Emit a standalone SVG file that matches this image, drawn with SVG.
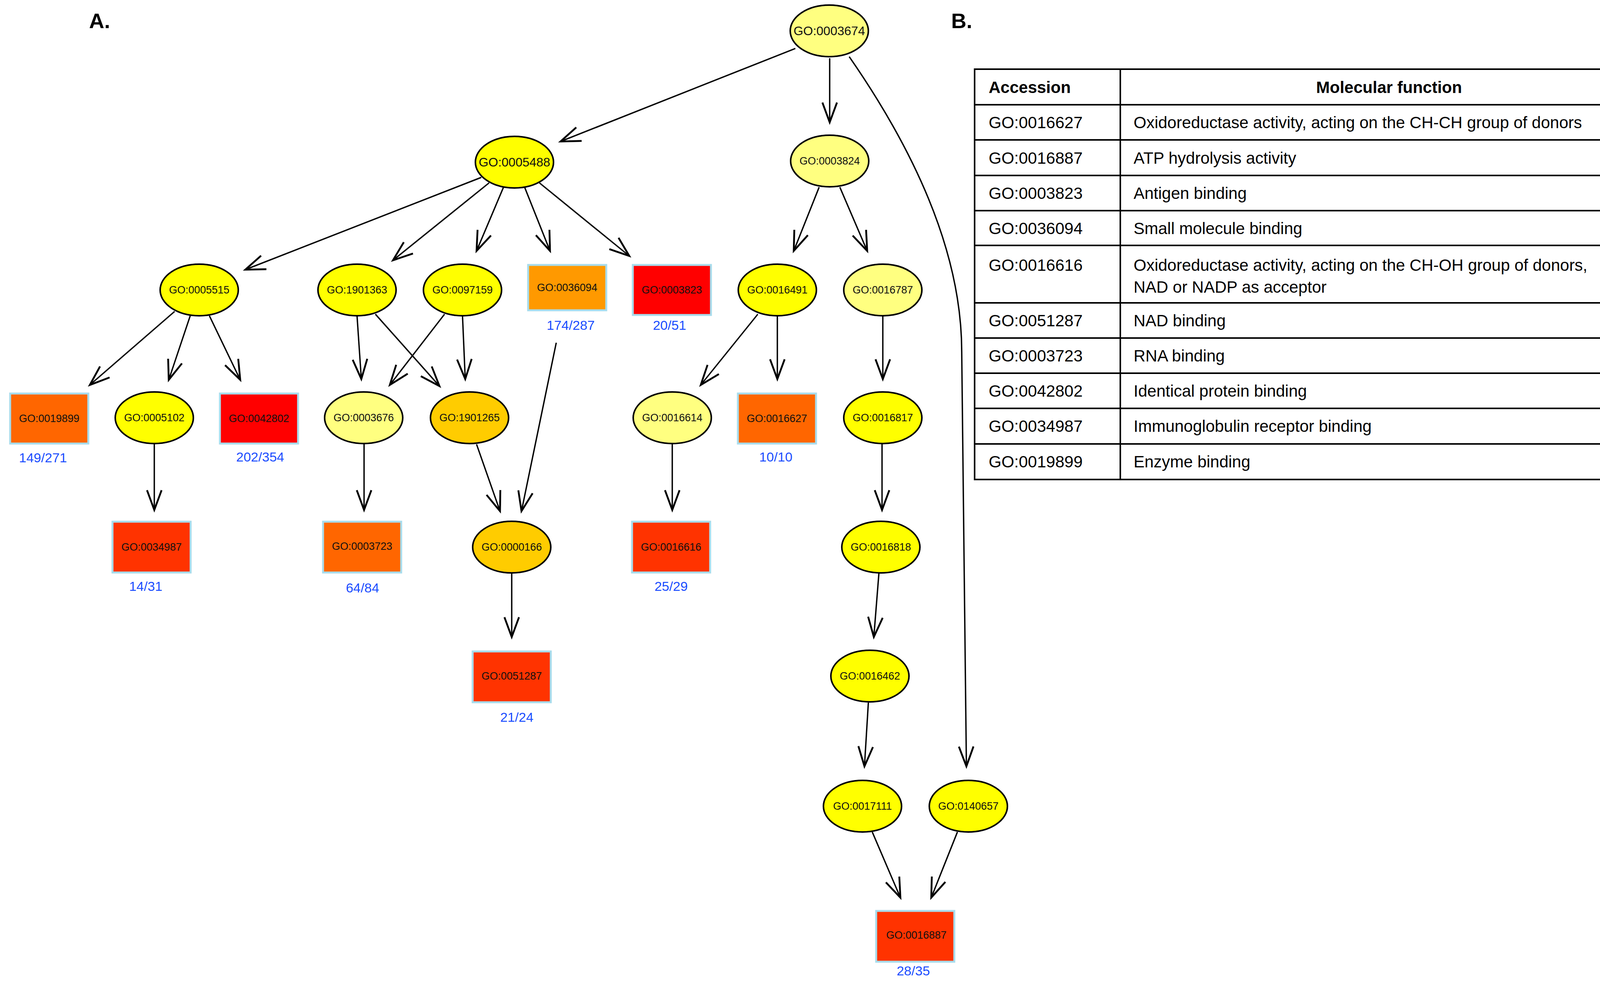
<svg xmlns="http://www.w3.org/2000/svg" width="4266" height="2518" viewBox="0 0 4266 2518">
<style>
.e{stroke:#000;stroke-width:4}
.r{stroke:#a8dcec;stroke-width:5}
.t{font-family:"Liberation Sans",Arial,sans-serif;font-size:27px;text-anchor:middle;dominant-baseline:central;fill:#111}
.big{font-size:32px}
.n{font-family:"Liberation Sans",Arial,sans-serif;font-size:34px;text-anchor:middle;fill:#1a4dff}
.c path{fill:none;stroke:#000;stroke-width:3.5;marker-end:url(#a)}
.tb{font-family:"Liberation Sans",Arial,sans-serif;font-size:42px;fill:#000}
.hd{font-weight:bold}
.ln{stroke:#000;stroke-width:4}
</style>
<defs>
<marker id="a" markerUnits="userSpaceOnUse" markerWidth="60" markerHeight="60" refX="0" refY="0" viewBox="-40 -20 45 40" orient="auto" overflow="visible">
<path d="M-38,-14 L0,0 L-38,14" fill="none" stroke="#000" stroke-width="3.5"/>
</marker>
</defs>
<rect width="4266" height="2518" fill="#fff"/>
<text x="228" y="72" font-family="Liberation Sans,Arial,sans-serif" font-size="54" font-weight="bold">A.</text>
<text x="2435" y="72" font-family="Liberation Sans,Arial,sans-serif" font-size="54" font-weight="bold">B.</text>

<g class="c" id="connectors">
<path d="M2036,124 L1435,362"/>
<path d="M2124,149 L2124,313"/>
<path d="M2174,145 Q2462,560 2462,900 L2474,1961"/>
<path d="M1232,454 L628,690"/>
<path d="M1252,468 L1006,666"/>
<path d="M1289,479 L1220,642"/>
<path d="M1343,479 L1408,642"/>
<path d="M1381,468 L1611,655"/>
<path d="M2097,479 L2032,642"/>
<path d="M2150,479 L2220,642"/>
<path d="M447,797 L230,985"/>
<path d="M487,808 L432,972"/>
<path d="M536,808 L615,972"/>
<path d="M914,808 L925,970"/>
<path d="M961,804 L1125,988"/>
<path d="M1138,804 L998,985"/>
<path d="M1184,808 L1191,970"/>
<path d="M1424,877 L1335,1308"/>
<path d="M1940,804 L1794,985"/>
<path d="M1990,808 L1990,970"/>
<path d="M2260,808 L2260,970"/>
<path d="M395,1135 L395,1305"/>
<path d="M932,1135 L932,1305"/>
<path d="M1220,1137 L1280,1308"/>
<path d="M1721,1135 L1721,1305"/>
<path d="M2258,1135 L2258,1305"/>
<path d="M1310,1467 L1310,1630"/>
<path d="M2250,1467 L2237,1630"/>
<path d="M2223,1798 L2213,1961"/>
<path d="M2233,2129 L2305,2297"/>
<path d="M2451,2129 L2384,2297"/>
</g>

<g id="n0003674"><ellipse class="e" cx="2123" cy="79" rx="100" ry="66" fill="#ffff80"/><text class="t big" x="2123" y="79">GO:0003674</text></g>
<g id="n0005488"><ellipse class="e" cx="1317" cy="415" rx="100" ry="66" fill="#ffff00"/><text class="t big" x="1317" y="415">GO:0005488</text></g>
<g id="n0003824"><ellipse class="e" cx="2124" cy="412" rx="100" ry="66" fill="#ffff80"/><text class="t" x="2124" y="412">GO:0003824</text></g>

<g id="n0005515"><ellipse class="e" cx="510" cy="742" rx="100" ry="66" fill="#ffff00"/><text class="t" x="510" y="742">GO:0005515</text></g>
<g id="n1901363"><ellipse class="e" cx="914" cy="742" rx="100" ry="66" fill="#ffff00"/><text class="t" x="914" y="742">GO:1901363</text></g>
<g id="n0097159"><ellipse class="e" cx="1184" cy="742" rx="100" ry="66" fill="#ffff00"/><text class="t" x="1184" y="742">GO:0097159</text></g>
<g id="n0036094"><rect class="r" x="1352" y="678" width="200" height="116" fill="#ff9900"/><text class="t" x="1452" y="736">GO:0036094</text><text class="n" x="1461" y="844">174/287</text></g>
<g id="n0003823"><rect class="r" x="1620" y="678" width="200" height="128" fill="#ff0000"/><text class="t" x="1720" y="742">GO:0003823</text><text class="n" x="1714" y="844">20/51</text></g>
<g id="n0016491"><ellipse class="e" cx="1990" cy="742" rx="100" ry="66" fill="#ffff00"/><text class="t" x="1990" y="742">GO:0016491</text></g>
<g id="n0016787"><ellipse class="e" cx="2260" cy="742" rx="100" ry="66" fill="#ffff80"/><text class="t" x="2260" y="742">GO:0016787</text></g>

<g id="n0019899"><rect class="r" x="26" y="1007" width="200" height="128" fill="#ff6600"/><text class="t" x="126" y="1071">GO:0019899</text><text class="n" x="110" y="1183">149/271</text></g>
<g id="n0005102"><ellipse class="e" cx="395" cy="1069" rx="100" ry="66" fill="#ffff00"/><text class="t" x="395" y="1069">GO:0005102</text></g>
<g id="n0042802"><rect class="r" x="563" y="1007" width="200" height="128" fill="#ff0000"/><text class="t" x="663" y="1071">GO:0042802</text><text class="n" x="666" y="1181">202/354</text></g>
<g id="n0003676"><ellipse class="e" cx="931" cy="1069" rx="100" ry="66" fill="#ffff80"/><text class="t" x="931" y="1069">GO:0003676</text></g>
<g id="n1901265"><ellipse class="e" cx="1202" cy="1069" rx="100" ry="66" fill="#ffcc00"/><text class="t" x="1202" y="1069">GO:1901265</text></g>
<g id="n0016614"><ellipse class="e" cx="1721" cy="1069" rx="100" ry="66" fill="#ffff80"/><text class="t" x="1721" y="1069">GO:0016614</text></g>
<g id="n0016627"><rect class="r" x="1889" y="1007" width="200" height="128" fill="#ff6600"/><text class="t" x="1989" y="1071">GO:0016627</text><text class="n" x="1986" y="1181">10/10</text></g>
<g id="n0016817"><ellipse class="e" cx="2260" cy="1069" rx="100" ry="66" fill="#ffff00"/><text class="t" x="2260" y="1069">GO:0016817</text></g>

<g id="n0034987"><rect class="r" x="288" y="1335" width="200" height="130" fill="#ff3300"/><text class="t" x="388" y="1400">GO:0034987</text><text class="n" x="373" y="1512">14/31</text></g>
<g id="n0003723"><rect class="r" x="827" y="1335" width="200" height="130" fill="#ff6600"/><text class="t" x="927" y="1398">GO:0003723</text><text class="n" x="928" y="1516">64/84</text></g>
<g id="n0000166"><ellipse class="e" cx="1310" cy="1400" rx="100" ry="66" fill="#ffcc00"/><text class="t" x="1310" y="1400">GO:0000166</text></g>
<g id="n0016616"><rect class="r" x="1618" y="1335" width="200" height="130" fill="#ff3300"/><text class="t" x="1718" y="1400">GO:0016616</text><text class="n" x="1718" y="1512">25/29</text></g>
<g id="n0016818"><ellipse class="e" cx="2255" cy="1400" rx="100" ry="66" fill="#ffff00"/><text class="t" x="2255" y="1400">GO:0016818</text></g>

<g id="n0051287"><rect class="r" x="1210" y="1667" width="200" height="130" fill="#ff3300"/><text class="t" x="1310" y="1730">GO:0051287</text><text class="n" x="1323" y="1847">21/24</text></g>
<g id="n0016462"><ellipse class="e" cx="2227" cy="1730" rx="100" ry="66" fill="#ffff00"/><text class="t" x="2227" y="1730">GO:0016462</text></g>

<g id="n0017111"><ellipse class="e" cx="2208" cy="2063" rx="100" ry="66" fill="#ffff00"/><text class="t" x="2208" y="2063">GO:0017111</text></g>
<g id="n0140657"><ellipse class="e" cx="2479" cy="2063" rx="100" ry="66" fill="#ffff00"/><text class="t" x="2479" y="2063">GO:0140657</text></g>
<g id="n0016887"><rect class="r" x="2243" y="2331" width="200" height="130" fill="#ff3300"/><text class="t" x="2346" y="2393">GO:0016887</text><text class="n" x="2338" y="2496">28/35</text></g>

<g id="table">
<rect x="2495" y="177" width="1752" height="1050" fill="none" class="ln"/>
<line class="ln" x1="2868" y1="177" x2="2868" y2="1227"/>
<line class="ln" x1="2495" y1="268" x2="4247" y2="268"/>
<line class="ln" x1="2495" y1="358" x2="4247" y2="358"/>
<line class="ln" x1="2495" y1="449" x2="4247" y2="449"/>
<line class="ln" x1="2495" y1="539" x2="4247" y2="539"/>
<line class="ln" x1="2495" y1="628" x2="4247" y2="628"/>
<line class="ln" x1="2495" y1="775" x2="4247" y2="775"/>
<line class="ln" x1="2495" y1="865" x2="4247" y2="865"/>
<line class="ln" x1="2495" y1="955" x2="4247" y2="955"/>
<line class="ln" x1="2495" y1="1045" x2="4247" y2="1045"/>
<line class="ln" x1="2495" y1="1136" x2="4247" y2="1136"/>
<text class="tb hd" x="2531" y="238">Accession</text>
<text class="tb hd" x="3556" y="238" text-anchor="middle">Molecular function</text>
<text class="tb" x="2531" y="328">GO:0016627</text><text class="tb" x="2902" y="328">Oxidoreductase activity, acting on the CH-CH group of donors</text>
<text class="tb" x="2531" y="419">GO:0016887</text><text class="tb" x="2902" y="419">ATP hydrolysis activity</text>
<text class="tb" x="2531" y="509">GO:0003823</text><text class="tb" x="2902" y="509">Antigen binding</text>
<text class="tb" x="2531" y="599">GO:0036094</text><text class="tb" x="2902" y="599">Small molecule binding</text>
<text class="tb" x="2531" y="693">GO:0016616</text><text class="tb" x="2902" y="693">Oxidoreductase activity, acting on the CH-OH group of donors,</text>
<text class="tb" x="2902" y="749">NAD or NADP as acceptor</text>
<text class="tb" x="2531" y="835">GO:0051287</text><text class="tb" x="2902" y="835">NAD binding</text>
<text class="tb" x="2531" y="925">GO:0003723</text><text class="tb" x="2902" y="925">RNA binding</text>
<text class="tb" x="2531" y="1015">GO:0042802</text><text class="tb" x="2902" y="1015">Identical protein binding</text>
<text class="tb" x="2531" y="1105">GO:0034987</text><text class="tb" x="2902" y="1105">Immunoglobulin receptor binding</text>
<text class="tb" x="2531" y="1196">GO:0019899</text><text class="tb" x="2902" y="1196">Enzyme binding</text>
</g>
</svg>
